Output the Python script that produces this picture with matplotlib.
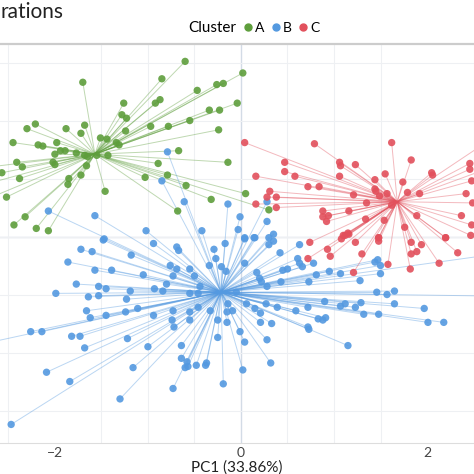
import numpy as np
import matplotlib.pyplot as plt
from matplotlib.lines import Line2D
from matplotlib.offsetbox import HPacker

plt.rcParams['font.family'] = ['Lato', 'DejaVu Sans']

# cluster centroids (PC1, PC2)
centroid_a = (-1.57, 0.71)
centroid_b = (-0.215, -0.48)
centroid_c = (1.68, 0.30)

a_x = [-0.60, 0.02, -0.85, -1.70, -0.47, -0.26, -0.19, -1.26, -0.92, -0.87, -0.04, -1.28, -1.23,
       -0.34, -0.23, -0.55, -0.97, -0.78, -1.24, -0.24, -2.21, -2.30, -1.88, -1.68, -1.72, -2.45,
       -2.18, -2.13, -1.98, -1.51, -1.44, -1.34, -1.31, -1.94, -1.89, -2.00, -1.77, -1.68, -1.55,
       -1.43, -1.65, -0.67, -0.89, -0.14, -2.41, -2.35, -2.02, -2.00, -1.66, -2.57, -2.38, -1.85,
       -1.86, -1.72, -1.03, -0.79, -0.59, -1.46, 0.05, -0.32, 0.30, -0.68, -2.52, -2.32, -2.44,
       -2.20, -2.07, -2.75, -2.80, -2.70]
a_y = [1.51, 1.41, 1.36, 1.33, 1.26, 1.31, 1.32, 1.15, 1.15, 1.18, 1.15, 1.05, 1.02,
       1.09, 1.09, 1.00, 0.95, 0.95, 0.91, 0.92, 0.97, 0.93, 0.93, 0.96, 0.89, 0.81,
       0.79, 0.78, 0.81, 0.85, 0.84, 0.81, 0.79, 0.74, 0.74, 0.71, 0.72, 0.70, 0.70,
       0.70, 0.69, 0.74, 0.63, 0.64, 0.64, 0.60, 0.64, 0.62, 0.61, 0.55, 0.50, 0.50,
       0.45, 0.53, 0.51, 0.53, 0.44, 0.39, 0.37, 0.32, 0.23, 0.22, 0.34, 0.17, 0.10,
       0.07, 0.05, 0.45, 0.30, 0.60]

c_x = [0.04, 0.79, 1.62, 1.83, 0.47, 0.47, 0.58, 1.06, 1.07, 1.23, 1.06, 1.55, 1.44, 1.74,
       2.05, 2.06, 2.46, 2.46, 2.48, 0.16, 0.72, 0.84, 1.44, 1.45, 1.57, 1.49, 1.79, 1.92,
       1.21, 1.35, 0.31, 0.38, 0.28, 0.16, 0.38, 1.62, 1.16, 1.89, 0.88, 0.88, 0.94, 0.92,
       1.34, 1.54, 1.76, 2.37, 2.42, 2.49, 2.48, 1.10, 1.15, 1.48, 2.20, 0.74, 0.72, 0.93,
       0.96, 1.08, 1.12, 1.16, 1.23, 1.30, 1.48, 1.48, 1.58, 1.21, 1.83, 1.89, 1.83, 1.94,
       1.82, 2.13, 2.20, 2.33, 2.47, 2.80, 2.70]
c_y = [0.81, 0.80, 0.81, 0.66, 0.64, 0.56, 0.52, 0.64, 0.61, 0.62, 0.52, 0.54, 0.49, 0.47,
       0.55, 0.53, 0.63, 0.58, 0.48, 0.52, 0.43, 0.43, 0.41, 0.39, 0.37, 0.35, 0.38, 0.37,
       0.36, 0.29, 0.39, 0.34, 0.34, 0.28, 0.25, 0.27, 0.22, 0.18, 0.22, 0.17, 0.18, 0.13,
       0.15, 0.14, 0.08, 0.18, 0.37, 0.29, 0.10, 0.01, 0.03, -0.01, -0.01, -0.05, -0.19, -0.11,
       -0.17, -0.02, 0.01, 0.02, -0.05, -0.15, -0.01, -0.04, -0.24, -0.31, -0.05, -0.13, -0.15, -0.07,
       -0.28, -0.23, -0.01, -0.14, 0.01, 0.90, 0.60]

b_x = [-0.79, -0.85, -0.61, -0.14, -0.01, -0.03, 0.28, 0.28, -2.07, -1.57, -1.02, -0.42, 0.35,
       0.04, 0.14, 0.30, -1.47, -1.48, -1.72, -1.60, -1.18, -0.94, -0.69, -0.67, -0.29, -0.17,
       0.04, 0.15, 0.30, 0.35, 0.42, 0.63, -1.86, -1.57, -1.39, -1.05, -0.76, -0.69, -0.73,
       -0.55, -0.50, -0.34, -0.27, -0.21, -0.16, 0.04, 0.17, 0.20, 0.22, 0.28, 0.45, 0.50,
       0.43, 0.61, 0.63, 0.66, 0.78, 0.81, 0.73, 0.95, 1.07, 1.28, 1.44, 1.47, 1.50, 1.50,
       -1.77, -1.53, -1.45, -1.19, -0.93, -0.84, -0.80, -0.55, -0.44, -0.46, -1.99, -1.64, -1.53,
       -1.23, -0.05, 1.46, 1.57, 1.65, -1.66, -1.62, -1.45, -1.24, -1.11, -0.94, -0.73, -0.55,
       -0.46, -0.33, -0.14, -0.15, -0.09, 0.06, 0.15, 0.21, 0.27, 0.39, 0.59, 0.72, 0.90,
       1.07, 1.12, 1.23, 1.29, 1.32, 1.48, 1.65, 1.97, -0.74, -0.72, -0.55, -0.25, -0.15,
       0.21, 0.33, 0.83, 0.88, 0.91, 2.01, 2.18, -2.26, -2.14, -1.82, -1.73, -1.68, -1.22,
       -1.00, -0.64, -0.25, -0.01, 0.04, 0.28, 0.72, 0.73, 1.15, -0.64, -0.58, -0.60, -0.57,
       -0.48, -0.38, -0.37, -1.16, -2.09, 0.32, 0.02, -1.84, -0.19, -0.73, -1.30, -2.47,
       -2.80, 3.20, 3.30]
b_y = [0.73, 0.48, 0.30, 0.28, 0.17, 0.06, 0.13, 0.30, 0.22, 0.18, 0.05, 0.05, 0.02,
       -0.01, -0.01, -0.01, -0.02, -0.03, -0.11, -0.13, -0.16, -0.06, -0.09, -0.12, -0.11, -0.06,
       -0.02, -0.01, -0.07, -0.04, -0.14, -0.07, -0.22, -0.29, -0.29, -0.33, -0.25, -0.28, -0.34,
       -0.28, -0.34, -0.25, -0.19, -0.26, -0.30, -0.23, -0.31, -0.36, -0.39, -0.43, -0.29, -0.28,
       -0.39, -0.19, -0.23, -0.26, -0.23, -0.33, -0.39, -0.30, -0.32, -0.38, -0.22, -0.20, -0.25, -0.32,
       -0.41, -0.43, -0.45, -0.47, -0.45, -0.47, -0.41, -0.49, -0.43, -0.49, -0.49, -0.52, -0.51,
       -0.54, -0.48, -0.48, -0.50, -0.47, -0.64, -0.70, -0.68, -0.65, -0.62, -0.68, -0.64, -0.65,
       -0.61, -0.64, -0.58, -0.65, -0.64, -0.58, -0.62, -0.66, -0.58, -0.61, -0.64, -0.61, -0.56,
       -0.60, -0.58, -0.61, -0.57, -0.67, -0.67, -0.58, -0.62, -0.72, -0.78, -0.72, -0.72, -0.74,
       -0.74, -0.75, -0.71, -0.72, -0.70, -0.74, -0.74, -0.82, -0.82, -0.86, -0.86, -0.96, -0.88,
       -0.95, -0.94, -0.87, -0.82, -0.91, -0.89, -0.78, -0.80, -0.94, -1.05, -1.08, -1.13, -1.12,
       -1.11, -1.11, -1.09, -1.13, -1.17, -1.09, -1.15, -1.25, -1.27, -1.31, -1.40, -1.62,
       -0.93, -0.10, -0.52]

clusters = [
    ("A", a_x, a_y, centroid_a, "#5E9E3C"),
    ("B", b_x, b_y, centroid_b, "#5499E0"),
    ("C", c_x, c_y, centroid_c, "#E2505C"),
]

fig = plt.figure(figsize=(4.74, 4.74), dpi=100)
ax = fig.add_axes([0.0, 0.0654, 1.0, 0.8418])

for name, xs, ys, (cx, cy), col in clusters:
    for x, y in zip(xs, ys):
        ax.plot([cx, x], [cy, y], color=col, lw=0.7, alpha=0.4, zorder=2)
    ax.scatter(xs, ys, s=28, color=col, alpha=0.9, edgecolors='none', zorder=3)

ax.set_xlim(-2.59, 2.505)
ax.set_ylim(-1.78, 1.66)
ax.set_xticks([-2, 0, 2])
ax.set_xticks(np.arange(-2.5, 2.6, 0.5), minor=True)
ax.set_yticks(np.arange(-1.5, 1.6, 0.5), minor=True)
ax.set_yticks([])
ax.grid(True, which='minor', color='#EEF0F3', lw=0.8, zorder=0)
ax.axvline(0, color='#D3DBE6', lw=1.0, zorder=1)
ax.axhline(0, color='#D3DBE6', lw=1.0, zorder=1)
ax.tick_params(axis='both', which='both', length=0)
ax.tick_params(axis='x', labelsize=10, labelcolor='#444444', pad=3)
for side in ('left', 'right'):
    ax.spines[side].set_visible(False)
ax.spines['top'].set_color('#CCCCCC')
ax.spines['top'].set_linewidth(1.6)
ax.spines['bottom'].set_color('#DDDDDD')
ax.set_xlabel("PC1 (33.86%)", fontsize=11, color='#222222', labelpad=1)

fig.text(0.0, 1 - 12 / 474, "rations", ha='left', va='center', fontsize=15, color='#222222')

handles = [Line2D([], [], marker='o', ls='none', color=c[4], markersize=5, label=c[0])
           for c in clusters]
leg = fig.legend(handles=handles, title="Cluster", loc='center',
                 bbox_to_anchor=(0.535, 1 - 28 / 474), ncol=3, frameon=False, fontsize=10,
                 title_fontsize=11, handletextpad=0.0, columnspacing=0.3, borderpad=0,
                 handlelength=1.0)
# put the title on the same row as the entries
box = leg._legend_box
box.__class__ = HPacker
box.sep = 4

fig.savefig("out.png", dpi=100)
